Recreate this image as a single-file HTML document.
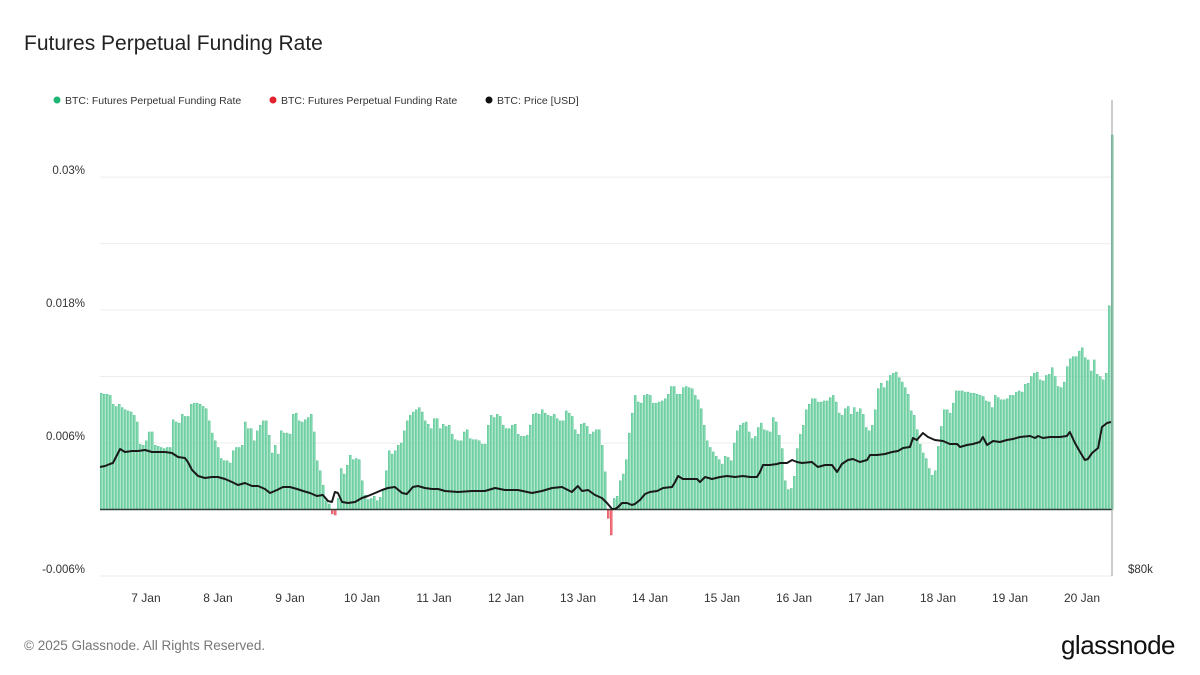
<!DOCTYPE html>
<html><head><meta charset="utf-8"><style>
html,body{margin:0;padding:0;background:#fff;width:1200px;height:675px;overflow:hidden;font-family:"Liberation Sans",sans-serif}
svg{display:block}
</style></head><body>
<svg id="chart" width="1200" height="675">
<text x="24" y="50" font-size="21" fill="#222">Futures Perpetual Funding Rate</text>
<g font-size="10.5" fill="#333">
<g><circle cx="57" cy="100" r="3.5" fill="#1cb574"/><text x="65" y="104">BTC: Futures Perpetual Funding Rate</text></g>
<g><circle cx="273" cy="100" r="3.5" fill="#e0222e"/><text x="281" y="104">BTC: Futures Perpetual Funding Rate</text></g>
<g><circle cx="489" cy="100" r="3.5" fill="#111"/><text x="497" y="104">BTC: Price [USD]</text></g>
</g>
<g id="grid"></g>
<g id="bars"></g>
<g id="axes"></g>
<path id="price" fill="none" stroke="#1a1a1a" stroke-width="2" stroke-linejoin="round"/>
<text x="24" y="650" font-size="13.5" fill="#777">© 2025 Glassnode. All Rights Reserved.</text>
<text x="1175" y="654" font-size="26" fill="#111" text-anchor="end" letter-spacing="-0.5">glassnode</text>
</svg>
<script>
const funding = [
.0105,.0104,.0104,.0103,.0095,.0093,.0095,.0092,.0090,.0089,.0088,.0085,.0079,.0059,.0058,.0062,.0070,.0070,.0058,.0057,.0056,.0055,.0056,.0056,
.0081,.0079,.0078,.0086,.0084,.0084,.0095,.0096,.0096,.0095,.0093,.0091,.0080,.0069,.0062,.0056,.0046,.0044,.0044,.0042,.0053,.0056,.0056,.0058,
.0079,.0073,.0073,.0062,.0071,.0076,.0080,.0080,.0067,.0051,.0058,.0050,
.0071,.0069,.0069,.0068,.0086,.0087,.0080,.0079,.0081,.0083,.0086,.0070,.0044,.0035,.0022,.0008,.0005,-.0004,-.0005,.0010,
.0037,.0032,.0040,.0049,.0045,.0046,.0045,.0026,.0013,.0009,.0010,.0012,.0008,.0011,.0017,.0035,.0053,.0050,.0053,.0058,
.0060,.0071,.0080,.0085,.0088,.0090,.0092,.0088,.0080,.0077,.0073,.0082,.0082,.0073,.0077,.0075,
.0076,.0068,.0063,.0062,.0062,.0070,.0072,.0064,.0063,.0063,.0062,.0059,.0059,.0076,.0085,.0083,.0086,.0084,.0076,.0073,
.0073,.0076,.0077,.0068,.0066,.0066,.0067,.0076,.0086,.0087,.0086,.0090,.0087,.0085,.0084,.0086,.0082,.0080,.0080,.0089,
.0087,.0084,.0072,.0068,.0077,.0078,.0075,.0068,.0070,.0072,.0072,.0058,.0034,-.0008,-.0023,.0010,.0012,.0026,.0032,
.0045,.0069,.0087,.0103,.0097,.0096,.0103,.0104,.0103,.0096,.0096,.0097,.0098,.0100,.0104,.0111,.0111,.0104,.0104,.0110,
.0111,.0110,.0109,.0103,.0099,.0091,.0076,.0062,.0056,.0052,.0048,.0045,.0041,.0048,.0047,.0044,.0060,.0071,.0076,.0078,
.0079,.0070,.0064,.0066,.0074,.0078,.0072,.0071,.0070,.0083,.0079,.0067,.0055,.0026,.0018,.0019,.0030,.0055,.0068,
.0076,.0090,.0095,.0100,.0100,.0097,.0097,.0098,.0098,.0101,.0103,.0097,.0087,.0085,.0091,.0093,.0086,.0092,.0088,.0091,
.0086,.0074,.0071,.0076,.0090,.0109,.0114,.0110,.0116,.0121,.0123,.0124,.0119,.0115,.0110,.0104,.0089,.0085,.0072,.0059,
.0051,.0046,.0037,.0031,.0035,.0057,.0075,.0090,.0090,.0087,.0096,.0107,.0107,.0107,.0106,.0106,
.0105,.0105,.0104,.0103,.0102,.0098,.0097,.0092,.0103,.0101,.0099,.0099,.0100,.0103,.0103,.0106,.0107,.0106,.0113,.0114,
.0120,.0123,.0124,.0117,.0116,.0121,.0122,.0128,.0120,.0111,.0110,.0115,.0129,.0136,.0138,.0138,.0143,.0146,.0137,.0135,
.0125,.0135,.0122,.0120,.0117,.0123,.0184,.0338];
const priceHours = [0,1.7,3.3,4.3,5.7,6.7,8.3,10.7,12.7,15,17.3,19.3,21.7,24,26,28.3,29.3,30.7,32.7,35,37.3,39.3,41.7,44,46,48.3,50.7,52.7,55,56.7,
59,61,63.3,65.7,67.7,70,72.3,74.3,76,77.3,78.3,79.3,80.7,82.7,85,87.3,89.3,91.7,94,96,98.3,100.7,102.3,104.3,106,108.3,110.7,112.7,115,
119.3,124,128.3,131.7,135,139.3,144,147.3,150.7,154,157.3,159.3,160.7,162.7,165,167.3,169,170.7,171.7,172.7,174,
175.7,177.3,178.3,180,181.7,183.3,185.7,187.7,190.7,191.7,192.7,194.3,196.7,199,200,201.7,204,206.7,209,211.7,214.3,216.7,219,220,221,223.3,225.7,226.7,229,230.7,232.3,
234,237.3,239.3,241.7,244,245.7,247.3,249.3,251,253.3,255.7,256.7,259,261.7,264,266,267.7,270,271,272.3,274.3,276,278.3,281,283.3,285.7,286.7,
289,291,293.3,294.3,295.7,297.7,300,302.3,304.3,306.7,310,311.7,312.7,314.3,316.7,320,322.3,323.3,325,326.7,328.3,329.3,330.7,332.7,334,335.7,337];
const priceUsd = [101800,102000,102400,102600,104200,105400,104800,105000,105000,105200,104800,104800,104800,104600,103800,103600,102800,101200,100000,99600,99800,99800,99400,98800,98200,98600,98000,98000,97400,96600,
97200,97800,97800,97400,97000,96600,96000,96200,95000,94800,96800,96600,94800,94600,94800,95600,96000,96600,97200,97600,97800,96600,96400,97800,98000,97600,97400,97400,97000,
96800,97000,97000,97600,97200,97200,96600,97000,97600,97800,96800,98000,97000,97200,96200,95600,94600,93400,93400,93800,94600,
94600,94200,94400,95200,96400,96800,97000,97600,97800,98800,100000,99400,99400,99400,98800,99800,99400,99800,100000,99800,100000,99800,99800,100800,102200,102200,102400,102600,102600,103200,102800,
102600,102800,101800,102200,102200,100800,102400,103200,103400,102800,103200,104200,104200,104400,104800,105000,105600,105800,107600,107200,108600,107800,107200,107000,106400,106400,105800,
106200,106400,106800,107800,106200,107000,106800,107200,107400,107800,108000,107600,108000,107600,107800,107800,108000,108800,106600,104800,103200,103400,104600,105600,109800,110600,110800];
const yTicks = [0.03, 0.018, 0.006, -0.006];
const yTickLabels = ["0.03%","0.018%","0.006%","-0.006%"];
const xTickLabels = ["7 Jan","8 Jan","9 Jan","10 Jan","11 Jan","12 Jan","13 Jan","14 Jan","15 Jan","16 Jan","17 Jan","18 Jan","19 Jan","20 Jan"];
const xTickHours = [15.33,39.33,63.33,87.33,111.33,135.33,159.33,183.33,207.33,231.33,255.33,279.33,303.33,327.33];

const NS='http://www.w3.org/2000/svg';
const L=100, R=1112, T=100, B=576;
const yRate = v => 509.5 - v*11080;
const xHour = h => L + 3*h;
const yPrice = p => B - (p-80000)*0.005;
function mk(tag, attrs, parent){const e=document.createElementNS(NS,tag);for(const k in attrs)e.setAttribute(k,attrs[k]);parent.appendChild(e);return e;}
const grid=document.getElementById('grid'), bars=document.getElementById('bars'), axes=document.getElementById('axes');
for(let v=0.03; v>-0.0061; v-=0.006){
  const y=yRate(v);
  if(Math.abs(v)<1e-9) continue;
  const g=mk('line',{x1:L,x2:R,y1:y,y2:y,stroke:'#ececec','stroke-width':1},grid);
  
  
}
yTicks.forEach((v,i)=>{
  const t=mk('text',{x:85,y:yRate(v)-3,'font-size':11.5,fill:'#333','text-anchor':'end'},axes);
  t.textContent=yTickLabels[i];
  
  
});
xTickLabels.forEach((s,i)=>{
  const t=mk('text',{x:xHour(xTickHours[i]),y:602,'font-size':12,fill:'#333','text-anchor':'middle'},axes);
  t.textContent=s;
  
  
});
funding.forEach((v,i)=>{
  const x=xHour(i)+0.2, y0=yRate(0), y1=yRate(v);
  const r=mk('rect',{x:x,y:Math.min(y0,y1),width:2,height:Math.max(0.5,Math.abs(y1-y0)),fill:v>=0?'#7fd8ae':'#f07078',stroke:v>=0?'#4cbf8a':'#e24452','stroke-width':0.4},bars);
  
  
});
const zl=mk('line',{x1:L,x2:R,y1:yRate(0),y2:yRate(0),stroke:'#2f3b35','stroke-width':1.5},axes);


const ra=mk('line',{x1:R,x2:R,y1:T,y2:B,stroke:'#999','stroke-width':1},axes);


const p80=mk('text',{x:1128,y:573,'font-size':11.5,fill:'#333'},axes);
p80.textContent='$80k';


let d='';
priceHours.forEach((h,i)=>{d+=(i?'L':'M')+xHour(h).toFixed(1)+','+yPrice(priceUsd[i]).toFixed(1);});
document.getElementById('price').setAttribute('d',d);
</script>
</body></html>
